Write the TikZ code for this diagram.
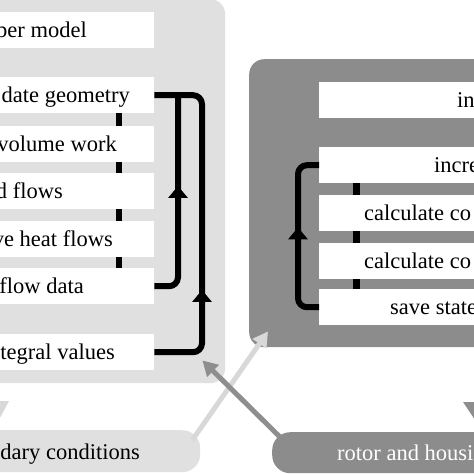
\documentclass[tikz,border=0pt]{standalone}
\usepackage{fontspec}
\setmainfont{Liberation Serif}
\usetikzlibrary{arrows.meta,decorations.markings,calc}
\definecolor{panelL}{HTML}{E0E0E0}
\definecolor{panelD}{HTML}{8C8C8C}
\definecolor{arrL}{HTML}{D8D8D8}
\definecolor{arrD}{HTML}{8E8E8E}
\begin{document}
\begin{tikzpicture}[x=1pt,y=-1pt,
  panel/.style={draw=none, rounded corners=15pt, inner sep=0pt, anchor=north west},
  wbox/.style={fill=white, draw=none, inner sep=0pt, minimum height=36pt, anchor=north west},
  lbox/.style={wbox, minimum width=164pt},
  rbox/.style={wbox, minimum width=175pt},
  txt/.style={inner sep=0pt, font=\fontsize{22.5}{27}\selectfont},
  divider/.style={line width=6.5pt, line cap=butt, black},
  loopline/.style={line width=6pt, line cap=butt, rounded corners=9pt, black},
  upmark/.style={postaction={decorate}, decoration={markings, mark=at position #1 with {\arrow{Triangle[width=19pt,length=12pt]}}}},
  grayarrow/.style={line width=5pt, line cap=butt, -{Triangle[width=16pt,length=15pt]}}
]
\useasboundingbox (0,0) rectangle (474,474);
\clip (0,0) rectangle (474,474);

% panels
\node[panel, fill=panelL, minimum width=245pt, minimum height=384pt] (lp) at (-20,-1) {};
\node[panel, fill=panelD, minimum width=245pt, minimum height=288pt] (rp) at (249,59) {};

% left boxes
\node[lbox] (cm) at (-10,12) {};
\node[lbox] (ug) at (-10,77) {};
\node[lbox] (vw) at (-10,125.5) {};
\node[lbox] (df) at (-10,173) {};
\node[lbox] (hf) at (-10,220.5) {};
\node[lbox] (fd) at (-10,268) {};
\node[lbox] (iv) at (-10,334) {};

\node[txt, anchor=base east] (tcm) at ($(cm.west)+(97,7.5)$) {ber model};
\node[txt, anchor=base east] (tug) at ($(ug.west)+(140,7.5)$) {date geometry};
\node[txt, anchor=base east] (tvw) at ($(vw.west)+(127,7.5)$) {volume work};
\node[txt, anchor=base east] (tdf) at ($(df.west)+(73,7.5)$) {d flows};
\node[txt, anchor=base east] (thf) at ($(hf.west)+(123,7.5)$) {ve heat flows};
\node[txt, anchor=base east] (tfd) at ($(fd.west)+(94,7.5)$) {flow data};
\node[txt, anchor=base east] (tiv) at ($(iv.west)+(125,7.5)$) {tegral values};

% right boxes
\node[rbox] (ic) at (319,82) {};
\node[rbox] (inc) at (319,147) {};
\node[rbox] (cc1) at (319,195) {};
\node[rbox] (cc2) at (319,243) {};
\node[rbox] (ss) at (319,289) {};

\node[txt, anchor=base west] (tic) at ($(ic.west)+(138,7.5)$) {in};
\node[txt, anchor=base west] (tinc) at ($(inc.west)+(115,7.5)$) {incre};
\node[txt, anchor=base west] (tcc1) at ($(cc1.west)+(45,7.5)$) {calculate co};
\node[txt, anchor=base west] (tcc2) at ($(cc2.west)+(45,7.5)$) {calculate co};
\node[txt, anchor=base west] (tss) at ($(ss.west)+(71,7.5)$) {save state};

% dividers
\coordinate (dl) at (119,0);
\coordinate (dr) at (356.5,0);
\draw[divider] (ug.south -| dl) -- (vw.north -| dl);
\draw[divider] (vw.south -| dl) -- (df.north -| dl);
\draw[divider] (df.south -| dl) -- (hf.north -| dl);
\draw[divider] (hf.south -| dl) -- (fd.north -| dl);
\draw[divider] (inc.south -| dr) -- (cc1.north -| dr);
\draw[divider] (cc1.south -| dr) -- (cc2.north -| dr);
\draw[divider] (cc2.south -| dr) -- (ss.north -| dr);

% loops
\coordinate (il) at (178,0);
\coordinate (ol) at (202,0);
\coordinate (rl) at (298,0);
\draw[loopline, upmark=120pt] (fd.east) -- (fd.east -| il) -- ($(ug.east -| il)+(0,-2)$);
\draw[loopline, upmark=106pt] (iv.east) -- (iv.east -| ol) -- (ug.east -| ol) -- (ug.east);
\draw[loopline, upmark=97pt] (ss.west) -- (ss.west -| rl) -- (inc.west -| rl) -- (inc.west);

% bottom boxes
\node[panel, fill=panelL, rounded corners=18pt, minimum width=230pt, minimum height=42pt] (bc) at (-30,430) {};
\node[panel, fill=panelD, rounded corners=18pt, minimum width=228pt, minimum height=41pt] (rh) at (272,432) {};
\node[txt, anchor=base east] (tbc) at ($(bc.west)+(170,8)$) {dary conditions};
\node[txt, anchor=base west, text=white] (trh) at ($(rh.west)+(65,8)$) {rotor and housi};

% crossing arrows
\draw[grayarrow, draw=arrL, fill=arrL] ([xshift=-8pt,yshift=-10pt]bc.north east) -- ([xshift=19pt,yshift=16pt]rp.south west);
\draw[grayarrow, draw=arrD, fill=arrD] ([xshift=8pt,yshift=-5pt]rh.north west) -- ([xshift=-23pt,yshift=23pt]lp.south east);

% partial arrow heads at the edges
\fill[arrL] (-8,401) -- (9,401) -- (0.5,417) -- cycle;
\fill[arrD] (463,402) -- (487,402) -- (475,420) -- cycle;
\end{tikzpicture}
\end{document}
